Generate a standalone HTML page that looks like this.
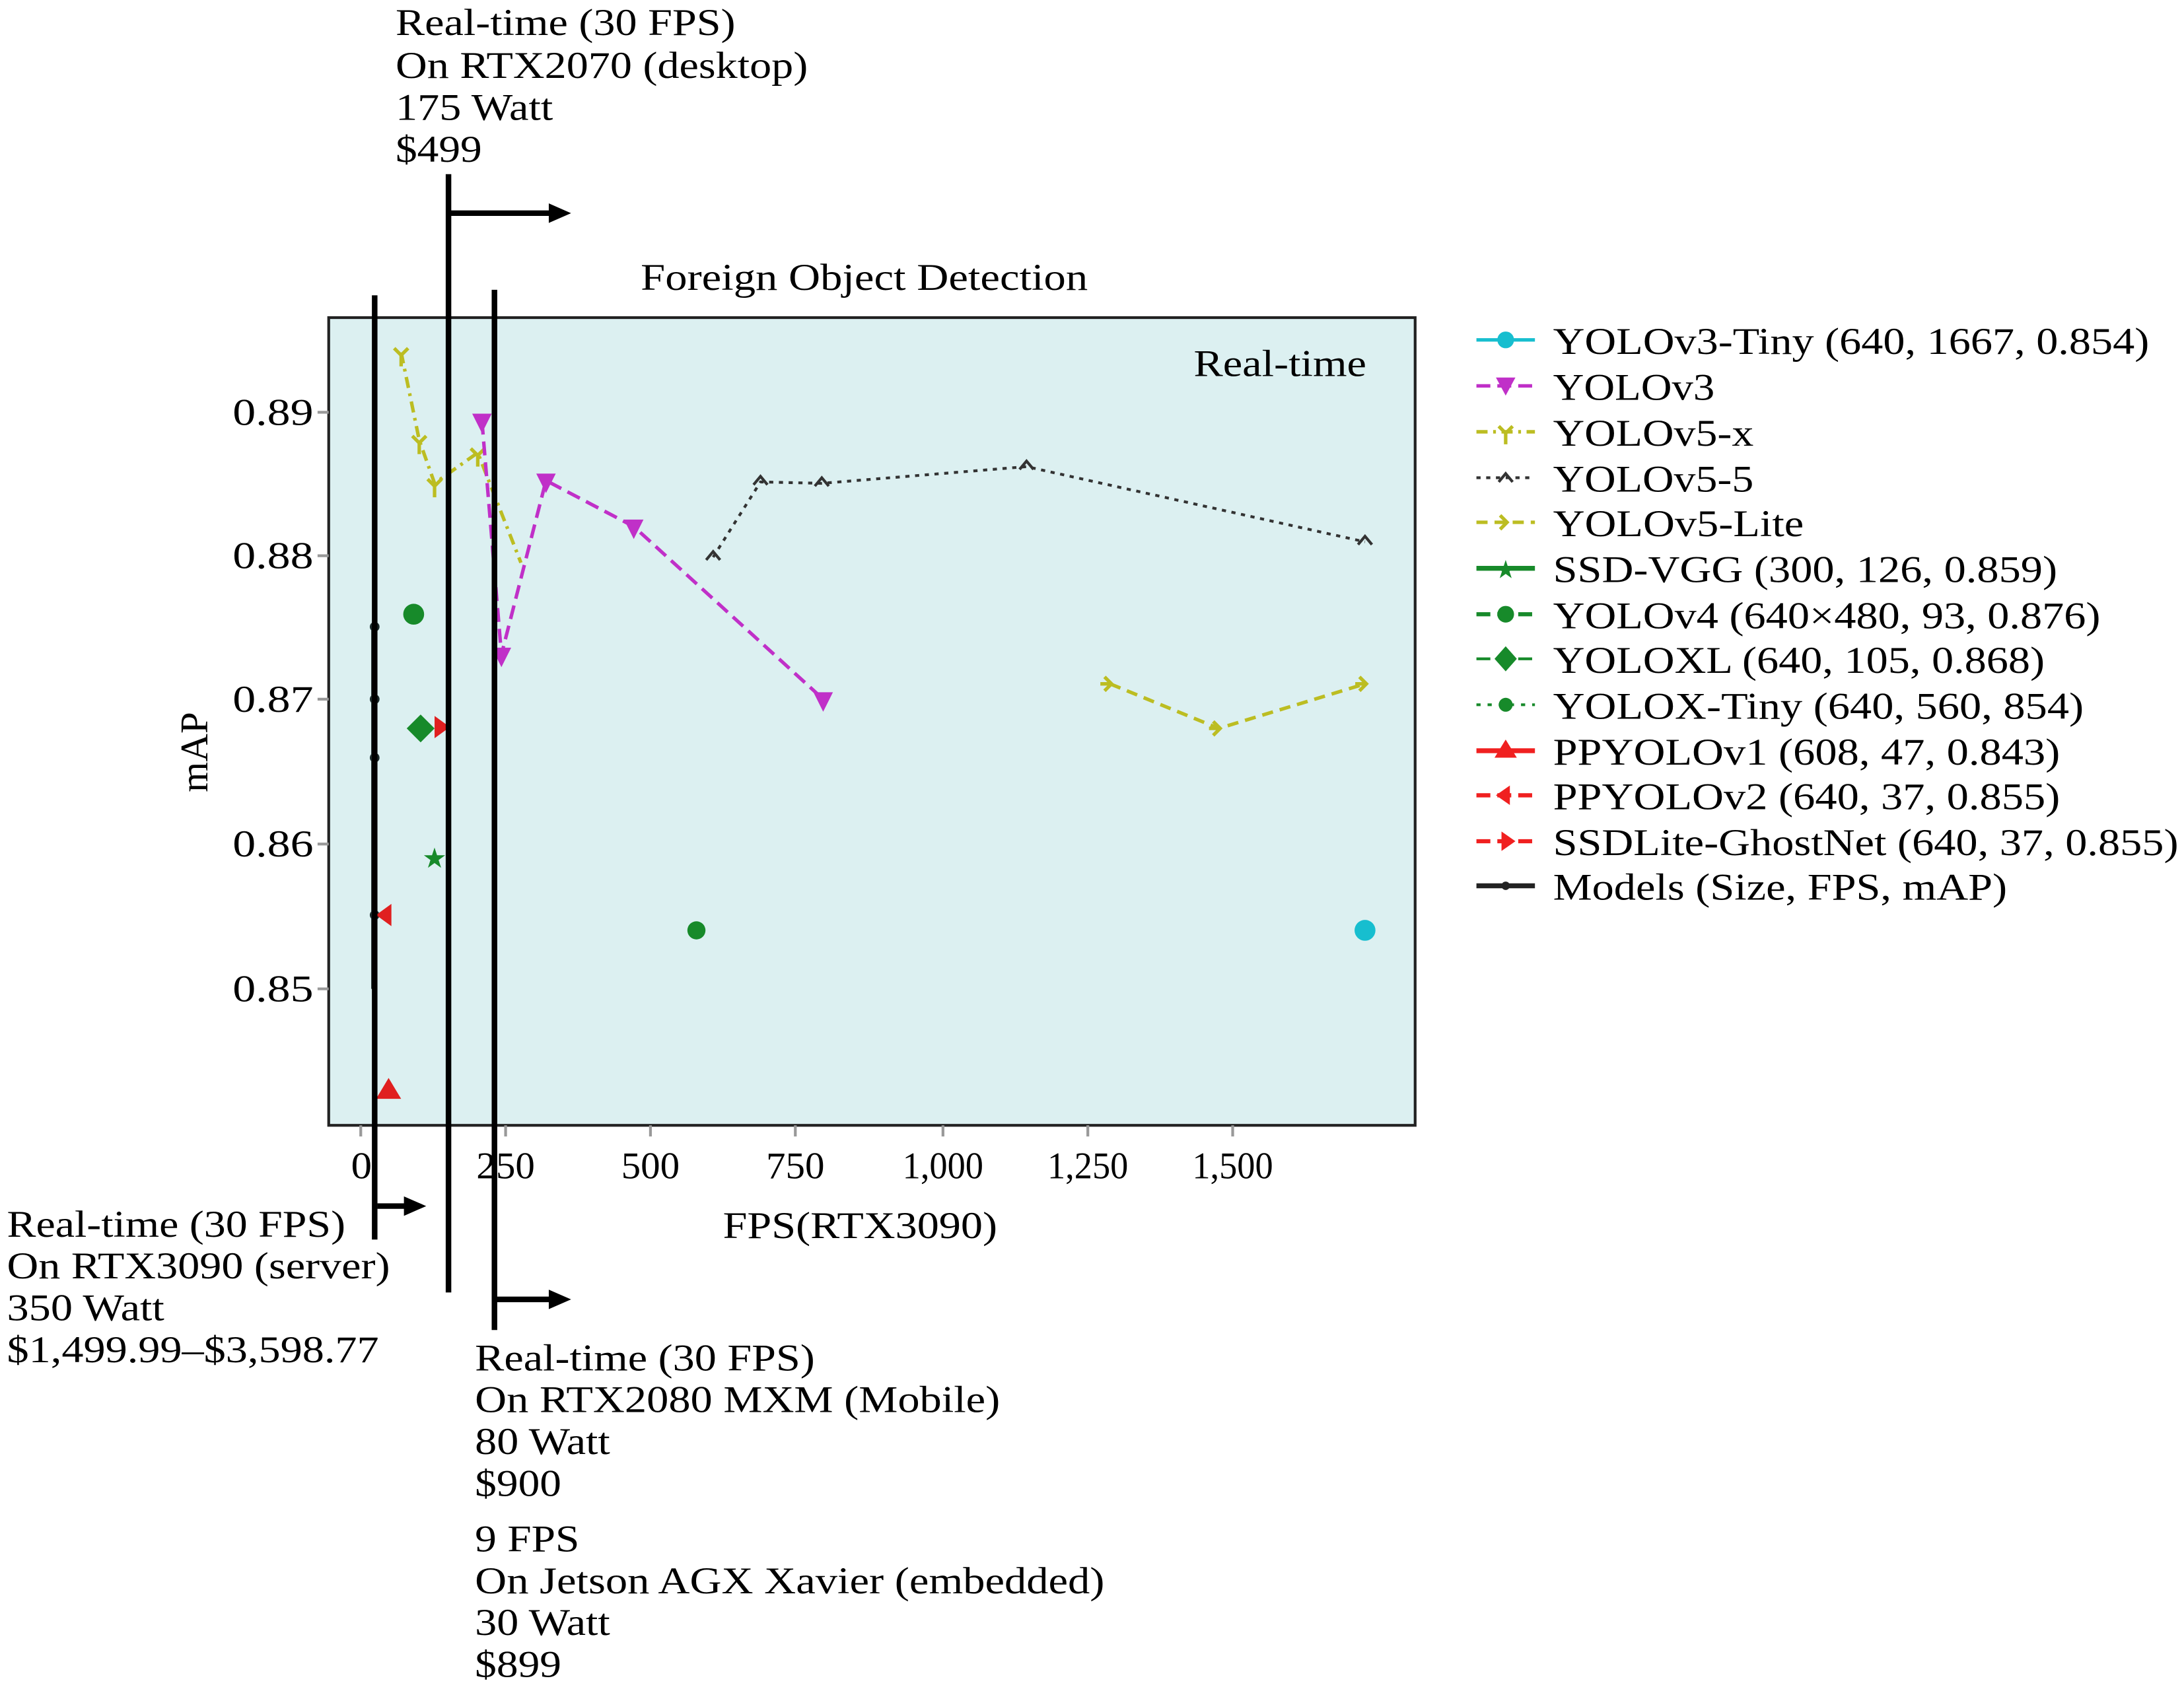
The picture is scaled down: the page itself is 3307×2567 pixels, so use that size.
<!DOCTYPE html>
<html><head><meta charset="utf-8"><style>html,body{margin:0;padding:0;background:#fff}svg{display:block}text{font-family:"Liberation Serif",serif;fill:#000}</style></head><body>
<svg width="3307" height="2567" viewBox="0 0 1568 1217" xmlns="http://www.w3.org/2000/svg">
<rect x="236" y="228" width="780" height="580" fill="#dcf0f1" stroke="#222" stroke-width="2"/>
<g stroke="#999" stroke-width="2">
<line x1="228" y1="296" x2="236" y2="296"/><line x1="228" y1="399" x2="236" y2="399"/><line x1="228" y1="502" x2="236" y2="502"/><line x1="228" y1="606" x2="236" y2="606"/><line x1="228" y1="710" x2="236" y2="710"/>
<line x1="259" y1="808" x2="259" y2="816"/><line x1="363" y1="808" x2="363" y2="816"/><line x1="467" y1="808" x2="467" y2="816"/><line x1="571" y1="808" x2="571" y2="816"/><line x1="677" y1="808" x2="677" y2="816"/><line x1="781" y1="808" x2="781" y2="816"/><line x1="885" y1="808" x2="885" y2="816"/>
</g>
<g font-size="27">
<text x="167" y="305" textLength="58" lengthAdjust="spacingAndGlyphs">0.89</text><text x="167" y="408" textLength="58" lengthAdjust="spacingAndGlyphs">0.88</text><text x="167" y="511" textLength="58" lengthAdjust="spacingAndGlyphs">0.87</text><text x="167" y="615" textLength="58" lengthAdjust="spacingAndGlyphs">0.86</text><text x="167" y="719" textLength="58" lengthAdjust="spacingAndGlyphs">0.85</text>
<text x="252" y="846" textLength="15" lengthAdjust="spacingAndGlyphs">0</text>
<text x="342" y="846" textLength="42" lengthAdjust="spacingAndGlyphs">250</text>
<text x="446" y="846" textLength="42" lengthAdjust="spacingAndGlyphs">500</text>
<text x="550" y="846" textLength="42" lengthAdjust="spacingAndGlyphs">750</text>
<text x="648" y="846" textLength="58" lengthAdjust="spacingAndGlyphs">1,000</text>
<text x="752" y="846" textLength="58" lengthAdjust="spacingAndGlyphs">1,250</text>
<text x="856" y="846" textLength="58" lengthAdjust="spacingAndGlyphs">1,500</text>
<text x="460" y="208" textLength="321" lengthAdjust="spacingAndGlyphs">Foreign Object Detection</text>
<text x="857" y="270" textLength="124" lengthAdjust="spacingAndGlyphs">Real-time</text>
<text x="519" y="889" textLength="197" lengthAdjust="spacingAndGlyphs">FPS(RTX3090)</text>
<text x="0" y="0" text-anchor="middle" font-size="28" transform="translate(149,540) rotate(-90)">mAP</text>
</g>
<!-- series -->
<polyline points="288,253 301,316 312,347 343,325 374,404" fill="none" stroke="#bcbd22" stroke-width="2.5" stroke-dasharray="8,4,2,4"/>
<g stroke="#bcbd22" stroke-width="2.5" fill="none"><path d="M283,250l5,5l5,-5M288,255v8"/><path d="M296,313l5,5l5,-5M301,318v8"/><path d="M307,344l5,5l5,-5M312,349v8"/><path d="M338,322l5,5l5,-5M343,327v8"/></g>
<polyline points="346,302 360,470 392,345 455,378 591,502" fill="none" stroke="#c030c8" stroke-width="2.5" stroke-dasharray="10,5"/>
<g fill="#c030c8"><path d="M339,297h14l-7,14z"/><path d="M353,465h14l-7,14z"/><path d="M385,340h14l-7,14z"/><path d="M448,373h14l-7,14z"/><path d="M584,497h14l-7,14z"/></g>
<polyline points="512,400 546,346 590,347 737,335 980,389" fill="none" stroke="#333" stroke-width="2" stroke-dasharray="3,4"/>
<g stroke="#333" stroke-width="2" fill="none"><path d="M507,402l5,-6l5,6"/><path d="M541,348l5,-6l5,6"/><path d="M585,349l5,-6l5,6"/><path d="M732,337l5,-6l5,6"/><path d="M975,391l5,-6l5,6"/></g>
<polyline points="797,491 875,523 980,491" fill="none" stroke="#bcbd22" stroke-width="2.5" stroke-dasharray="8,5"/>
<g stroke="#bcbd22" stroke-width="2.5" fill="none"><path d="M793,486l5,5l-5,5M798,491h-8"/><path d="M871,518l5,5l-5,5M876,523h-8"/><path d="M976,486l5,5l-5,5M981,491h-8"/></g>
<line x1="268" y1="450" x2="268" y2="710" stroke="#1a2a2a" stroke-width="3"/>
<g fill="#1a2a2a"><circle cx="269" cy="450" r="3.5"/><circle cx="269" cy="502" r="3.5"/><circle cx="269" cy="544" r="3.5"/><circle cx="269" cy="657" r="3.5"/></g>
<circle cx="980" cy="668" r="7.5" fill="#17becf"/>
<circle cx="297" cy="441" r="7.5" fill="#178a2a"/>
<circle cx="500" cy="668" r="6.5" fill="#178a2a"/>
<path d="M302,513l10,10l-10,10l-10,-10z" fill="#178a2a"/>
<text x="312" y="623" font-size="20" text-anchor="middle" style="fill:#178a2a">★</text>
<path d="M279,774l9,15h-18z" fill="#e02020"/>
<path d="M270,657l11,-8v16z" fill="#e02020"/>
<path d="M323,522l-11,-8v16z" fill="#e02020"/>
<g stroke="#000" stroke-width="4">
<line x1="269" y1="212" x2="269" y2="890"/><line x1="322" y1="125" x2="322" y2="928"/><line x1="355" y1="208" x2="355" y2="955"/>
<line x1="322" y1="153" x2="396" y2="153"/>
<line x1="271" y1="866" x2="292" y2="866"/>
<line x1="355" y1="933" x2="396" y2="933"/>
</g>
<g fill="#000"><path d="M394,146l16,7l-16,7z"/><path d="M290,859l16,7l-16,7z"/><path d="M394,926l16,7l-16,7z"/></g>
<g font-size="27">
<text x="284" y="25" textLength="244" lengthAdjust="spacingAndGlyphs">Real-time (30 FPS)</text><text x="284" y="56" textLength="296" lengthAdjust="spacingAndGlyphs">On RTX2070 (desktop)</text><text x="284" y="86" textLength="113" lengthAdjust="spacingAndGlyphs">175 Watt</text><text x="284" y="116" textLength="62" lengthAdjust="spacingAndGlyphs">$499</text>
<text x="5" y="888" textLength="243" lengthAdjust="spacingAndGlyphs">Real-time (30 FPS)</text><text x="5" y="918" textLength="275" lengthAdjust="spacingAndGlyphs">On RTX3090 (server)</text><text x="5" y="948" textLength="113" lengthAdjust="spacingAndGlyphs">350 Watt</text><text x="5" y="978" textLength="267" lengthAdjust="spacingAndGlyphs">$1,499.99–$3,598.77</text>
<text x="341" y="984" textLength="244" lengthAdjust="spacingAndGlyphs">Real-time (30 FPS)</text><text x="341" y="1014" textLength="377" lengthAdjust="spacingAndGlyphs">On RTX2080 MXM (Mobile)</text><text x="341" y="1044" textLength="97" lengthAdjust="spacingAndGlyphs">80 Watt</text><text x="341" y="1074" textLength="62" lengthAdjust="spacingAndGlyphs">$900</text>
<text x="341" y="1114" textLength="75" lengthAdjust="spacingAndGlyphs">9 FPS</text><text x="341" y="1144" textLength="452" lengthAdjust="spacingAndGlyphs">On Jetson AGX Xavier (embedded)</text><text x="341" y="1174" textLength="97" lengthAdjust="spacingAndGlyphs">30 Watt</text><text x="341" y="1204" textLength="62" lengthAdjust="spacingAndGlyphs">$899</text>
</g>
<g font-size="27">
<line x1="1060" y1="244" x2="1102" y2="244" stroke="#17becf" stroke-width="2.5"/><circle cx="1081" cy="244" r="6" fill="#17becf"/><text x="1115" y="254" textLength="428" lengthAdjust="spacingAndGlyphs">YOLOv3-Tiny (640, 1667, 0.854)</text>
<line x1="1060" y1="277" x2="1102" y2="277" stroke="#c030c8" stroke-width="2.5" stroke-dasharray="10,5"/><path d="M1074,271h14l-7,13z" fill="#c030c8"/><text x="1115" y="287" textLength="116" lengthAdjust="spacingAndGlyphs">YOLOv3</text>
<line x1="1060" y1="310" x2="1102" y2="310" stroke="#bcbd22" stroke-width="2.5" stroke-dasharray="8,4,2,4"/><path d="M1076,306l5,5l5,-5M1081,311v8" stroke="#bcbd22" stroke-width="2.5" fill="none"/><text x="1115" y="320" textLength="144" lengthAdjust="spacingAndGlyphs">YOLOv5-x</text>
<line x1="1060" y1="343" x2="1102" y2="343" stroke="#333" stroke-width="2" stroke-dasharray="3,4"/><path d="M1076,346l5,-6l5,6" stroke="#333" stroke-width="2" fill="none"/><text x="1115" y="353" textLength="144" lengthAdjust="spacingAndGlyphs">YOLOv5-5</text>
<line x1="1060" y1="375" x2="1102" y2="375" stroke="#bcbd22" stroke-width="2.5" stroke-dasharray="8,5"/><path d="M1077,370l5,5l-5,5" stroke="#bcbd22" stroke-width="2.5" fill="none"/><text x="1115" y="385" textLength="180" lengthAdjust="spacingAndGlyphs">YOLOv5-Lite</text>
<line x1="1060" y1="408" x2="1102" y2="408" stroke="#178a2a" stroke-width="3.5"/><text x="1081" y="415" font-size="18" text-anchor="middle" style="fill:#178a2a">★</text><text x="1115" y="418" textLength="362" lengthAdjust="spacingAndGlyphs">SSD-VGG (300, 126, 0.859)</text>
<line x1="1060" y1="441" x2="1102" y2="441" stroke="#178a2a" stroke-width="3" stroke-dasharray="10,5"/><circle cx="1081" cy="441" r="6" fill="#178a2a"/><text x="1115" y="451" textLength="393" lengthAdjust="spacingAndGlyphs">YOLOv4 (640×480, 93, 0.876)</text>
<line x1="1060" y1="473" x2="1102" y2="473" stroke="#178a2a" stroke-width="2" stroke-dasharray="10,5"/><path d="M1081,464l8,9l-8,9l-8,-9z" fill="#178a2a"/><text x="1115" y="483" textLength="353" lengthAdjust="spacingAndGlyphs">YOLOXL (640, 105, 0.868)</text>
<line x1="1060" y1="506" x2="1102" y2="506" stroke="#178a2a" stroke-width="2" stroke-dasharray="3,5"/><circle cx="1081" cy="506" r="5" fill="#178a2a"/><text x="1115" y="516" textLength="381" lengthAdjust="spacingAndGlyphs">YOLOX-Tiny (640, 560, 854)</text>
<line x1="1060" y1="539" x2="1102" y2="539" stroke="#f02020" stroke-width="3.5"/><path d="M1081,531l8,13h-16z" fill="#f02020"/><text x="1115" y="549" textLength="364" lengthAdjust="spacingAndGlyphs">PPYOLOv1 (608, 47, 0.843)</text>
<line x1="1060" y1="571" x2="1102" y2="571" stroke="#f02020" stroke-width="3" stroke-dasharray="10,5"/><path d="M1074,571l10,-7v14z" fill="#f02020"/><text x="1115" y="581" textLength="364" lengthAdjust="spacingAndGlyphs">PPYOLOv2 (640, 37, 0.855)</text>
<line x1="1060" y1="604" x2="1102" y2="604" stroke="#f02020" stroke-width="3" stroke-dasharray="10,5"/><path d="M1088,604l-10,-7v14z" fill="#f02020"/><text x="1115" y="614" textLength="449" lengthAdjust="spacingAndGlyphs">SSDLite-GhostNet (640, 37, 0.855)</text>
<line x1="1060" y1="636" x2="1102" y2="636" stroke="#222" stroke-width="3.5"/><circle cx="1081" cy="636" r="3" fill="#222"/><text x="1115" y="646" textLength="326" lengthAdjust="spacingAndGlyphs">Models (Size, FPS, mAP)</text>
</g>
</svg>
</body></html>
